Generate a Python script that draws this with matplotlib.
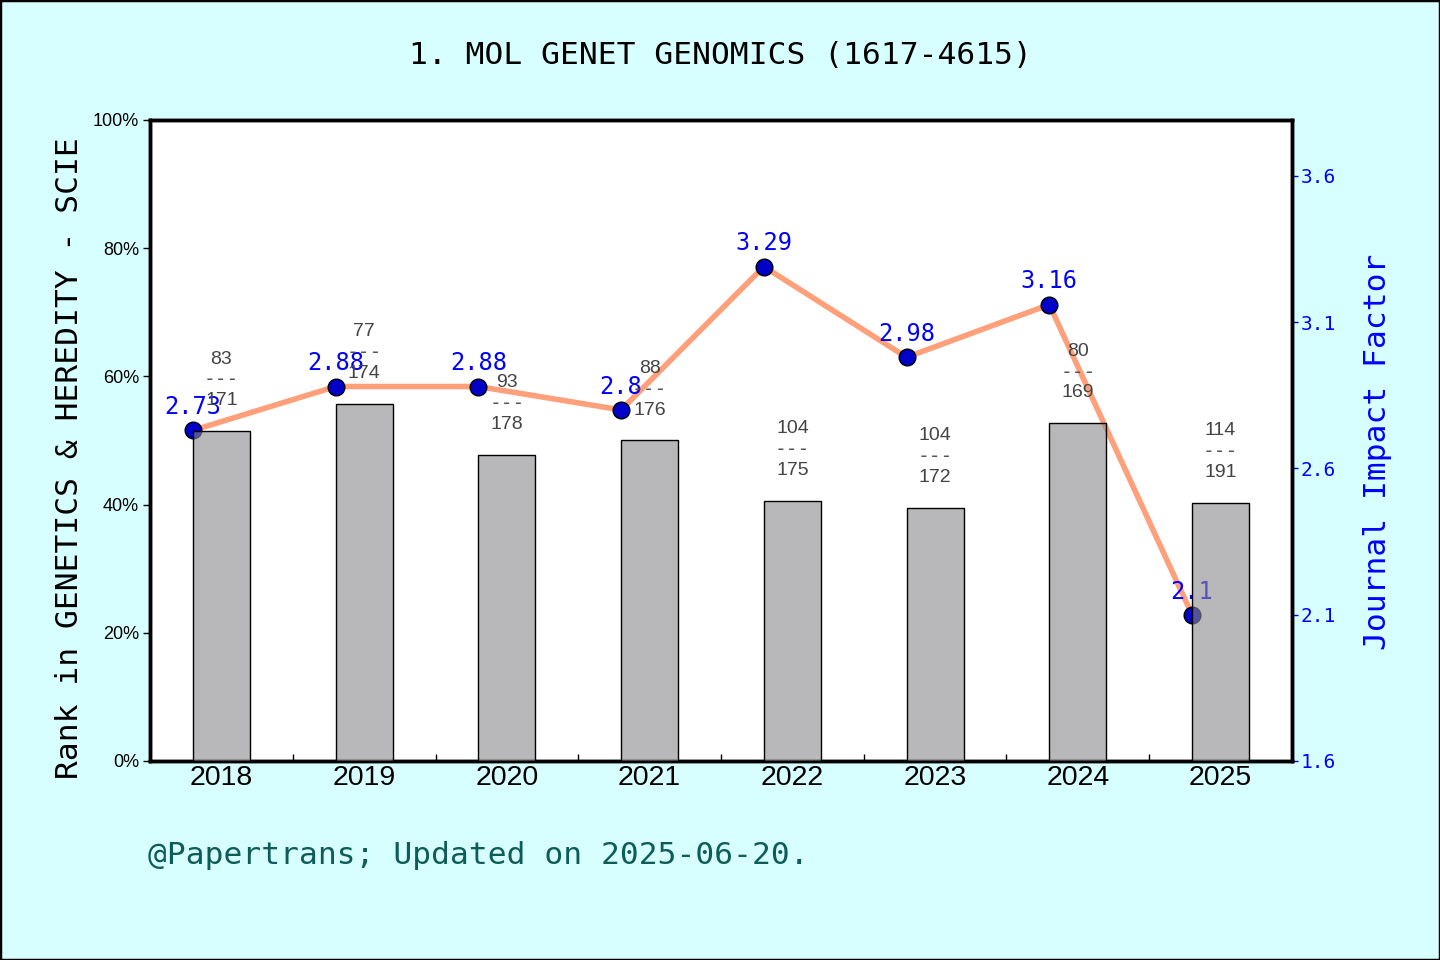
import matplotlib
matplotlib.use("Agg")
import matplotlib.pyplot as plt
import numpy as np
from matplotlib.patches import Rectangle

years = ["2018", "2019", "2020", "2021", "2022", "2023", "2024", "2025"]
ranks = [83, 77, 93, 88, 104, 104, 80, 114]
totals = [171, 174, 178, 176, 175, 172, 169, 191]
jif = [2.73, 2.88, 2.88, 2.8, 3.29, 2.98, 3.16, 2.1]

mono = "DejaVu Sans Mono"
sans = "Liberation Sans"
bg = "#d8ffff"

# percentile in category (higher is better)
pct = [1 - r / t for r, t in zip(ranks, totals)]
x = np.arange(len(years))

fig = plt.figure(figsize=(14.4, 9.6), dpi=100, facecolor=bg)
fig.patches.append(Rectangle((0, 0), 1, 1, transform=fig.transFigure,
                             fill=False, edgecolor="black", linewidth=2.5))
ax = fig.add_axes([0.1042, 0.2073, 0.793, 0.6677])
ax2 = ax.twinx()

# bars on top of the line, slightly see-through
ax2.set_zorder(1)
ax.set_zorder(2)
ax.patch.set_visible(False)
ax2.patch.set_facecolor("white")
ax2.patch.set_visible(True)

ax.bar(x, pct, width=0.4, facecolor=(0.54, 0.54, 0.55, 0.6),
       edgecolor="black", linewidth=1, zorder=3)
for xi, p, r, t in zip(x, pct, ranks, totals):
    ax.annotate(str(r), (xi, p + 0.08), xytext=(0, 15), textcoords="offset points",
                ha="center", va="center", fontsize=14, family=sans,
                color="#444444", zorder=4)
    ax.annotate("---", (xi, p + 0.08), xytext=(0, 0), textcoords="offset points",
                ha="center", va="center", fontsize=14, family=mono,
                color="#555555", zorder=4)
    ax.annotate(str(t), (xi, p + 0.08), xytext=(0, -15), textcoords="offset points",
                ha="center", va="center", fontsize=14, family=sans,
                color="#444444", zorder=4)

ax.set_xlim(-0.5, len(years) - 0.5)
ax.set_ylim(0, 1)
ax.set_yticks(np.arange(0, 1.01, 0.2))
ax.set_yticklabels([f"{int(v * 100)}%" for v in np.arange(0, 1.01, 0.2)],
                   family=sans, fontsize=13)
ax.set_xticks(x)
ax.set_xticklabels(years, family=sans, fontsize=20.5)
ax.set_xticks(np.arange(0.5, len(years) - 1, 1), minor=True)
ax.tick_params(axis="x", which="major", length=0, pad=3)
ax.tick_params(axis="x", which="minor", direction="in", length=5, width=1)
ax.tick_params(axis="y", length=5, width=1, pad=3)
ax.set_ylabel("Rank in GENETICS & HEREDITY - SCIE", family=mono,
              fontsize=22.5, labelpad=6)
ax.yaxis.label.set_y(0.473)

xs = x - 0.2
ax2.plot(xs, jif, color="#ffa07a", linewidth=4, zorder=2)
ax2.plot(xs, jif, "o", markersize=12, markerfacecolor="#0000c8",
         markeredgecolor="black", markeredgewidth=1, zorder=3)
for xi, v in zip(xs, jif):
    ax2.annotate(f"{v:g}", (xi, v), xytext=(0, 8), textcoords="offset points",
                 ha="center", va="bottom", color="#0000ff", family=mono,
                 fontsize=17, zorder=4)
ax2.set_ylim(1.6, 3.791)
ax2.set_yticks([1.6, 2.1, 2.6, 3.1, 3.6])
ax2.set_yticklabels(["1.6", "2.1", "2.6", "3.1", "3.6"], family=mono,
                    fontsize=14, color="#0000ff")
ax2.tick_params(axis="y", colors="#0000ff", length=4, width=1, pad=2)
ax2.set_ylabel("Journal Impact Factor", family=mono, fontsize=22.5,
               color="#0000ff", labelpad=20)
ax2.yaxis.label.set_y(0.483)

for a in (ax, ax2):
    for s in a.spines.values():
        s.set_linewidth(2.5)
        s.set_color("black")

fig.text(0.5, 0.942, "1. MOL GENET GENOMICS (1617-4615)", ha="center",
         va="center", family=mono, fontsize=22.5, color="black")
fig.text(0.103, 0.109, "@Papertrans; Updated on 2025-06-20.", ha="left",
         va="center", family=mono, fontsize=22.5, color="#0e5c58")

fig.savefig("out.png", dpi=100, facecolor=bg)
